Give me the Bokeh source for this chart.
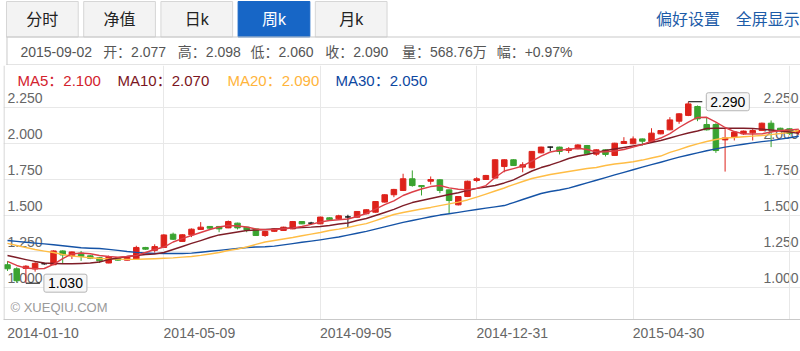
import numpy as np
from bokeh.plotting import figure
from bokeh.layouts import column
from bokeh.models import (Range1d, LinearAxis, FixedTicker, Grid, Label, Span,
                          PrintfTickFormatter, ColumnDataSource)
from bokeh.core.properties import value
from bokeh.embed import file_html
from bokeh.resources import INLINE

# ---------------- data (weekly candles) ----------------
opens = [1.158, 1.130, 1.132, 1.129, 1.165, 1.158, 1.254, 1.220, 1.238, 1.220,
         1.207, 1.170, 1.207, 1.190, 1.198, 1.278, 1.258, 1.278, 1.370, 1.320,
         1.366, 1.403, 1.424, 1.424, 1.414, 1.447, 1.419, 1.407, 1.361, 1.390,
         1.396, 1.407, 1.458, 1.447, 1.442, 1.484, 1.477, 1.490, 1.488, 1.512,
         1.523, 1.593, 1.644, 1.674, 1.755, 1.708, 1.738, 1.748, 1.678, 1.574,
         1.632, 1.743, 1.750, 1.760, 1.840, 1.887, 1.836, 1.831, 1.935, 1.975,
         1.975, 1.952, 1.963, 1.986, 1.926, 1.956, 1.917, 2.000, 1.998, 2.032,
         2.014, 2.067, 2.095, 2.155, 2.195, 2.257, 2.132, 2.132, 2.025, 2.044,
         2.067, 2.074, 2.090, 2.141, 2.106, 2.102, 2.077]
highs = [1.183, 1.140, 1.155, 1.175, 1.172, 1.258, 1.258, 1.250, 1.254, 1.225,
         1.210, 1.222, 1.210, 1.216, 1.290, 1.282, 1.300, 1.370, 1.381, 1.370,
         1.410, 1.454, 1.427, 1.427, 1.465, 1.450, 1.420, 1.410, 1.392, 1.410,
         1.422, 1.462, 1.461, 1.456, 1.492, 1.487, 1.505, 1.505, 1.531, 1.543,
         1.600, 1.647, 1.685, 1.790, 1.813, 1.710, 1.771, 1.752, 1.680, 1.635,
         1.742, 1.766, 1.782, 1.890, 1.890, 1.890, 1.870, 1.948, 1.978, 1.978,
         1.978, 1.975, 1.995, 1.990, 1.960, 1.958, 2.005, 2.044, 2.049, 2.035,
         2.106, 2.093, 2.183, 2.210, 2.290, 2.264, 2.183, 2.141, 2.100, 2.082,
         2.090, 2.100, 2.145, 2.160, 2.110, 2.105, 2.098]
lows = [1.115, 1.035, 1.030, 1.110, 1.158, 1.155, 1.166, 1.198, 1.185, 1.197,
        1.170, 1.168, 1.186, 1.188, 1.195, 1.262, 1.242, 1.275, 1.330, 1.318,
        1.350, 1.400, 1.403, 1.384, 1.412, 1.403, 1.384, 1.358, 1.352, 1.387,
        1.393, 1.405, 1.440, 1.436, 1.440, 1.468, 1.475, 1.414, 1.485, 1.508,
        1.520, 1.590, 1.627, 1.670, 1.700, 1.639, 1.715, 1.655, 1.516, 1.570,
        1.628, 1.731, 1.747, 1.757, 1.800, 1.845, 1.800, 1.828, 1.932, 1.947,
        1.924, 1.933, 1.960, 1.925, 1.914, 1.910, 1.914, 1.998, 1.995, 1.986,
        2.010, 2.064, 2.092, 2.137, 2.190, 2.155, 2.090, 1.935, 1.805, 2.021,
        2.060, 2.021, 2.087, 1.975, 2.085, 2.060, 2.060]
closes = [1.130, 1.047, 1.148, 1.168, 1.165, 1.254, 1.226, 1.247, 1.215, 1.203,
          1.185, 1.213, 1.190, 1.213, 1.278, 1.266, 1.284, 1.365, 1.335, 1.366,
          1.405, 1.419, 1.412, 1.407, 1.458, 1.414, 1.400, 1.361, 1.389, 1.407,
          1.419, 1.458, 1.442, 1.447, 1.489, 1.470, 1.498, 1.490, 1.528, 1.540,
          1.597, 1.644, 1.681, 1.755, 1.708, 1.700, 1.750, 1.674, 1.604, 1.632,
          1.738, 1.755, 1.778, 1.887, 1.887, 1.847, 1.852, 1.945, 1.975, 1.975,
          1.945, 1.963, 1.990, 1.928, 1.956, 1.924, 2.002, 2.014, 2.032, 2.016,
          2.072, 2.090, 2.164, 2.206, 2.275, 2.171, 2.095, 1.951, 2.039, 2.079,
          2.086, 2.090, 2.141, 2.095, 2.090, 2.070, 2.090]

ma5 = [1.181, 1.153, 1.135, 1.130, 1.132, 1.160, 1.201, 1.233, 1.240, 1.234,
       1.222, 1.215, 1.210, 1.215, 1.222, 1.243, 1.264, 1.281, 1.316, 1.340,
       1.361, 1.382, 1.403, 1.420, 1.431, 1.427, 1.420, 1.406, 1.401, 1.403,
       1.408, 1.413, 1.424, 1.438, 1.455, 1.465, 1.470, 1.476, 1.493, 1.514,
       1.545, 1.576, 1.601, 1.639, 1.663, 1.684, 1.701, 1.708, 1.692, 1.682,
       1.678, 1.688, 1.708, 1.764, 1.809, 1.826, 1.844, 1.878, 1.913, 1.941,
       1.953, 1.960, 1.967, 1.958, 1.941, 1.943, 1.948, 1.958, 1.976, 1.992,
       2.017, 2.038, 2.069, 2.111, 2.149, 2.181, 2.182, 2.148, 2.111, 2.083,
       2.067, 2.066, 2.067, 2.080, 2.090, 2.094, 2.100]
ma10 = [1.222, 1.208, 1.194, 1.181, 1.170, 1.167, 1.165, 1.165, 1.167, 1.170,
        1.177, 1.194, 1.205, 1.215, 1.222, 1.229, 1.233, 1.243, 1.264, 1.285,
        1.306, 1.326, 1.347, 1.365, 1.375, 1.385, 1.396, 1.399, 1.403, 1.406,
        1.410, 1.413, 1.417, 1.419, 1.424, 1.431, 1.441, 1.448, 1.465, 1.479,
        1.500, 1.521, 1.543, 1.569, 1.590, 1.604, 1.618, 1.632, 1.646, 1.658,
        1.674, 1.688, 1.698, 1.708, 1.726, 1.747, 1.778, 1.809, 1.833, 1.851,
        1.872, 1.896, 1.913, 1.924, 1.938, 1.951, 1.962, 1.972, 1.983, 1.993,
        2.007, 2.021, 2.038, 2.056, 2.073, 2.087, 2.104, 2.106, 2.106, 2.106,
        2.106, 2.104, 2.100, 2.094, 2.087, 2.080, 2.070]
ma20 = [1.306, 1.292, 1.278, 1.264, 1.253, 1.243, 1.229, 1.219, 1.213, 1.207,
        1.201, 1.199, 1.197, 1.195, 1.195, 1.198, 1.200, 1.203, 1.206, 1.211,
        1.215, 1.223, 1.233, 1.243, 1.257, 1.267, 1.281, 1.299, 1.316, 1.326,
        1.337, 1.347, 1.359, 1.371, 1.382, 1.396, 1.405, 1.417, 1.431, 1.444,
        1.465, 1.486, 1.507, 1.521, 1.533, 1.545, 1.556, 1.569, 1.581, 1.593,
        1.608, 1.628, 1.649, 1.670, 1.691, 1.715, 1.736, 1.757, 1.771, 1.785,
        1.795, 1.806, 1.816, 1.826, 1.833, 1.847, 1.858, 1.865, 1.873, 1.885,
        1.899, 1.913, 1.938, 1.958, 1.979, 1.997, 2.014, 2.028, 2.038, 2.042,
        2.047, 2.051, 2.056, 2.062, 2.069, 2.076, 2.090]
ma30 = [1.326, 1.320, 1.314, 1.308, 1.303, 1.297, 1.290, 1.283, 1.276, 1.273,
        1.271, 1.265, 1.258, 1.250, 1.244, 1.240, 1.237, 1.236, 1.236, 1.236,
        1.239, 1.245, 1.252, 1.258, 1.265, 1.271, 1.278, 1.281, 1.283, 1.287,
        1.296, 1.305, 1.314, 1.322, 1.331, 1.341, 1.351, 1.364, 1.377, 1.390,
        1.405, 1.421, 1.437, 1.452, 1.465, 1.478, 1.491, 1.503, 1.512, 1.522,
        1.532, 1.542, 1.551, 1.560, 1.569, 1.590, 1.611, 1.632, 1.653, 1.667,
        1.677, 1.690, 1.708, 1.727, 1.745, 1.763, 1.782, 1.800, 1.818, 1.836,
        1.853, 1.870, 1.888, 1.905, 1.920, 1.935, 1.950, 1.963, 1.975, 1.985,
        1.995, 2.004, 2.013, 2.020, 2.030, 2.040, 2.050]

x_tick_idx = [0, 17, 34, 51, 68, 85]
x_tick_labels = ["2014-01-10", "2014-05-09", "2014-09-05", "2014-12-31", "2015-04-30", "2015-08-28"]
y_ticks = [1.0, 1.25, 1.5, 1.75, 2.0, 2.25]

last_date = "2015-09-02"
last_volume = "568.76万"
last_change = "+0.97%"
tab_names = ["分时", "净值", "日k", "周k", "月k"]
active_tab = "周k"
links = ["偏好设置", "全屏显示"]
watermark = "© XUEQIU.COM"

# ---------------- style / layout ----------------
FONT = "Liberation Sans, Noto Sans CJK SC, sans-serif"
RED, GREEN, BLACK = "#dd221b", "#3aa330", "#111111"
MA_COLORS = ["#dc3f47", "#7e1d27", "#ffbd45", "#1553a6"]
LEG_COLORS = ["#d3222d", "#7b1522", "#ffb43b", "#0d47a1"]
GRID_C = "#e8e8e8"
BORDER_C = "#c9c9c9"
LABEL_C = "#666666"

X0_PX, STEP_PX = 7.0, 9.2          # pixel of first candle, pixels per week
P_REF, Y_REF_PX, PX_PER_UNIT = 2.25, 107.0, 144.0


def px2i(px):
    return (px - X0_PX) / STEP_PX


def py2p(py):
    return P_REF - (py - Y_REF_PX) / PX_PER_UNIT


# ---------------- header ----------------
h = figure(width=800, height=65, x_range=Range1d(0, 800), y_range=Range1d(65, 0),
           x_axis_location=None, y_axis_location=None, toolbar_location=None,
           output_backend="svg", outline_line_color=None, min_border=0,
           min_border_left=0, min_border_right=0, min_border_top=0, min_border_bottom=0)
h.grid.visible = False

tab_w, tab_pitch, tab_x0 = 72, 77.5, 3
tl = [tab_x0 + k * tab_pitch for k in range(len(tab_names))]
tr = [v + tab_w for v in tl]
is_active = [t == active_tab for t in tab_names]
h.quad(left=tl, right=tr, top=[1] * len(tl), bottom=[36.5] * len(tl),
       fill_color=["#1766c6" if a else "#f3f3f3" for a in is_active],
       line_color=["#1766c6" if a else "#d6d6d6" for a in is_active], line_width=1)
h.text(x=[(a + b) / 2 for a, b in zip(tl, tr)], y=[18.5] * len(tl), text=tab_names,
       text_color=["#ffffff" if a else "#222222" for a in is_active],
       text_font=value(FONT), text_font_size="16px", text_align="center", text_baseline="middle")
h.text(x=[655, 735], y=[18.5, 18.5], text=links, text_color="#1d5ca8",
       text_font=value(FONT), text_font_size="16px", text_align="left", text_baseline="middle")
h.line([3, 800], [36.5, 36.5], line_color=BORDER_C, line_width=1)
h.line([3, 800], [64.5, 64.5], line_color=BORDER_C, line_width=1)
h.line([3.5, 3.5], [36.5, 65], line_color=BORDER_C, line_width=1)

n = len(closes)
info_texts = [last_date,
              f"开：{opens[-1]:.3f}", f"高：{highs[-1]:.3f}", f"低：{lows[-1]:.3f}",
              f"收：{closes[-1]:.3f}", f"量：{last_volume}", f"幅：{last_change}"]
info_x = [17, 100, 175, 248, 323, 400, 495]
h.text(x=info_x, y=[51.5] * len(info_x), text=info_texts, text_color="#555555",
       text_font=value(FONT), text_font_size="14px", text_align="left", text_baseline="middle")

# ---------------- chart ----------------
p = figure(width=800, height=281,
           x_range=Range1d(px2i(3), px2i(800)), y_range=Range1d(py2p(319), py2p(65)),
           x_axis_location=None, y_axis_location=None, toolbar_location=None,
           output_backend="svg", outline_line_color=None, min_border=0,
           min_border_left=3, min_border_right=0, min_border_top=0, min_border_bottom=27)
p.grid.visible = False
p.add_layout(Grid(dimension=0, ticker=FixedTicker(ticks=x_tick_idx[1:]), grid_line_color=GRID_C))
p.add_layout(Grid(dimension=1, ticker=FixedTicker(ticks=y_ticks), grid_line_color=GRID_C))

dy = 10.0 / PX_PER_UNIT
p.extra_y_ranges = {"ylab": Range1d(py2p(319) - dy, py2p(65) - dy)}
dx = 35.5 / STEP_PX
p.extra_x_ranges = {"xlab": Range1d(px2i(3) - dx, px2i(800) - dx)}

for loc_px in (5, 761):
    ax = LinearAxis(y_range_name="ylab", fixed_location=px2i(loc_px),
                    ticker=FixedTicker(ticks=y_ticks), formatter=PrintfTickFormatter(format="%.3f"),
                    axis_line_color=None, major_tick_line_color=None, minor_tick_line_color=None,
                    major_tick_out=0, major_tick_in=0, major_label_standoff=2,
                    major_label_text_font=FONT, major_label_text_font_size="14px",
                    major_label_text_color=LABEL_C)
    ax.level = "underlay"
    p.add_layout(ax, "right")

# date axis: all ticks but the last (which falls past the window edge) come from the axis
xax = LinearAxis(x_range_name="xlab", ticker=FixedTicker(ticks=x_tick_idx[:-1]),
                 major_label_overrides={t: lab for t, lab in zip(x_tick_idx, x_tick_labels)},
                 axis_line_color=BORDER_C, major_tick_line_color=None, minor_tick_line_color=None,
                 major_tick_out=0, major_tick_in=0, major_label_standoff=8,
                 major_label_text_font=FONT, major_label_text_font_size="14px",
                 major_label_text_color=LABEL_C)
p.add_layout(xax, "below")
p.add_layout(Label(x=x_tick_idx[-1], y=py2p(332), text=x_tick_labels[-1], text_align="left",
                   text_baseline="middle", text_font=FONT, text_font_size="14px", text_color=LABEL_C))

p.add_layout(Span(location=px2i(3.5), dimension="height", line_color=BORDER_C, line_width=1))

idx = np.arange(n)
o, hi, lo, c = map(np.array, (opens, highs, lows, closes))
col = np.where(c > o, RED, np.where(c < o, GREEN, BLACK))
src = ColumnDataSource(dict(x=idx, high=hi, low=lo, top=np.maximum(o, c),
                            bottom=np.minimum(o, c), color=col))
p.segment(x0="x", y0="high", x1="x", y1="low", line_color="color", line_width=1, source=src)
p.vbar(x="x", top="top", bottom="bottom", width=0.6, fill_color="color",
       line_color="color", line_width=1, source=src)

for ser, colr in zip((ma30, ma20, ma10, ma5), MA_COLORS[::-1]):
    p.line(idx, ser, line_color=colr, line_width=1.4, line_join="round")

# legend
leg_names = ["MA5", "MA10", "MA20", "MA30"]
leg_vals = [ma5[-1], ma10[-1], ma20[-1], ma30[-1]]
leg_x = [17, 117, 227, 335]
for name, v, xx, colr in zip(leg_names, leg_vals, leg_x, LEG_COLORS):
    p.add_layout(Label(x=px2i(xx), y=py2p(80), text=f"{name}：{v:.3f}", text_color=colr,
                       text_font=FONT, text_font_size="15px", text_baseline="middle"))

p.add_layout(Label(x=px2i(10), y=py2p(307), text=watermark, text_color="#9a9a9a",
                   text_font=FONT, text_font_size="13px", text_baseline="middle"))

# max / min markers
i_max = int(np.argmax(hi))
i_min = int(np.argmin(lo))
gap = 14.0 / STEP_PX
p.segment(x0=[i_max, i_min], y0=[hi[i_max], lo[i_min]], x1=[i_max + gap, i_min + gap],
          y1=[hi[i_max], lo[i_min]], line_color="#000000", line_width=1)
for ii, vv in ((i_max, hi[i_max]), (i_min, lo[i_min])):
    p.add_layout(Label(x=ii, y=vv, x_offset=18, text=f"{vv:.3f}", text_align="left",
                       text_baseline="middle", text_font=FONT, text_font_size="14px",
                       text_color="#000000", background_fill_color="#f7f7f7",
                       border_line_color="#b5b5b5", padding=4, border_radius=2))

# ---------------- footer strip ----------------
f = figure(width=800, height=5, x_range=Range1d(0, 800), y_range=Range1d(5, 0),
           x_axis_location=None, y_axis_location=None, toolbar_location=None,
           output_backend="svg", outline_line_color=None, min_border=0,
           min_border_left=0, min_border_right=0, min_border_top=0, min_border_bottom=0)
f.grid.visible = False
f.line([3, 800], [0.5, 0.5], line_color=BORDER_C, line_width=1)
f.line([3.5, 3.5], [0.5, 5], line_color=BORDER_C, line_width=1)

layout = column(h, p, f, spacing=0)
open("out.html", "w").write(file_html(layout, INLINE))
